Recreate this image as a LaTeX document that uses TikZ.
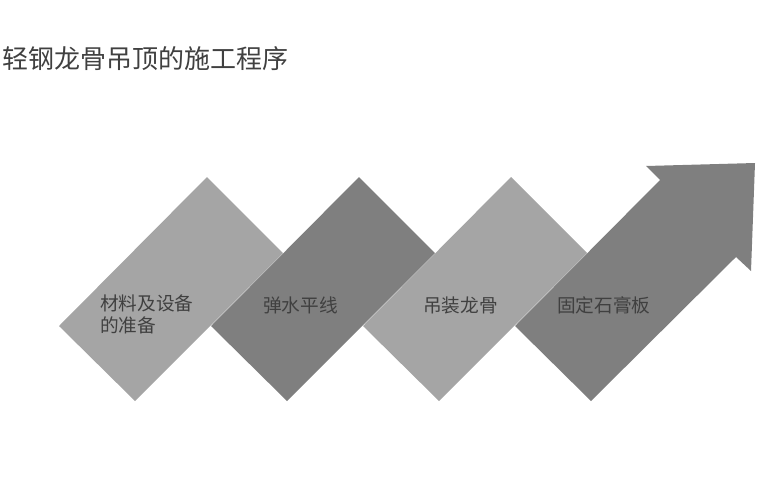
\documentclass[tikz,border=0pt]{standalone}
\usepackage{fontspec}
\newfontfamily\cjk{Noto Sans CJK SC}
\definecolor{lightstep}{HTML}{A5A5A5}
\definecolor{darkstep}{HTML}{7F7F7F}
\definecolor{labeltext}{HTML}{404040}

\begin{document}
\begin{tikzpicture}[
    x=0.75pt, y=-0.75pt,
    every node/.style={inner sep=0pt, anchor=west, text=labeltext, font=\cjk\fontsize{14}{16.5}\selectfont},
    titlefont/.style={font=\cjk\fontsize{19.5}{24}\selectfont},
    arrowband/.style={fill=darkstep}
  ]
    \useasboundingbox (0,0) rectangle (760,497);

    \node[titlefont] (title) at (2,59) {轻钢龙骨吊顶的施工程序};

    % zigzag bands
    \foreach \dx/\col in {0/lightstep, 152/darkstep, 304/lightstep}
      \fill[\col] ({59+\dx},326) -- ({207+\dx},177) -- ({283+\dx},253) -- ({135+\dx},401) -- cycle;

    % last band with arrow head
    \fill[arrowband] (515,326) -- (660,180) -- (646,166) -- (755,163) -- (751,271) -- (736,257) -- (591,401) -- cycle;

    \node[align=left] (prep) at (100,314) {材料及设备\\的准备};
    \node (line) at (263,305) {弹水平线};
    \node (hang) at (423,305) {吊装龙骨};
    \node (board) at (557,305) {固定石膏板};
  \end{tikzpicture}
\end{document}
